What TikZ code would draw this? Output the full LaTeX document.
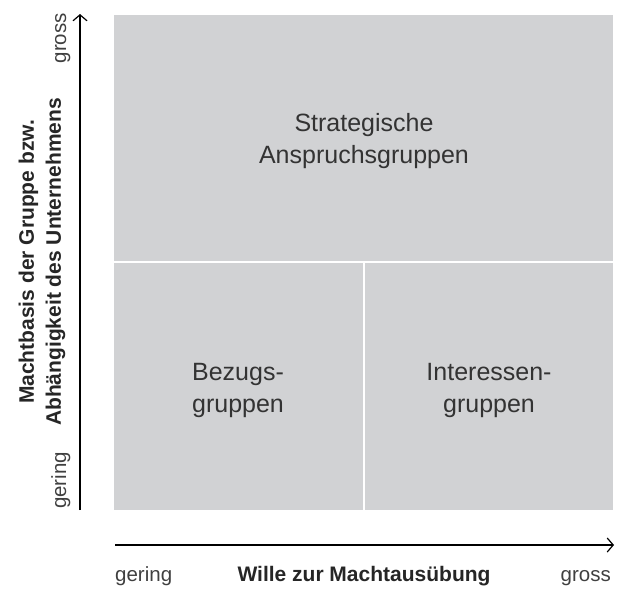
\documentclass[tikz,border=0pt]{standalone}
\usepackage{fontspec}
\setmainfont{Liberation Sans}
\usetikzlibrary{arrows.meta}
\definecolor{feld}{HTML}{D1D2D4}
\tikzset{
  feldtext/.style={align=center,font=\fontsize{25}{32}\selectfont,text=black!80},
  achstext/.style={inner sep=0pt,font=\fontsize{20.5}{22}\selectfont,text=black!75},
  achstitel/.style={align=center,font=\bfseries\fontsize{21}{27}\selectfont,text=black!85},
  achse/.style={-{Straight Barb[length=6pt,width=14pt]},line width=1.2pt}
}
\begin{document}
\begin{tikzpicture}[x=1pt,y=-1pt]
        \useasboundingbox (0,0) rectangle (629,600);
        % Felder der Matrix
        \fill[feld] (114,15) rectangle (613,510);
        \draw[white,line width=1.5pt] (114,262) -- (613,262);
        \draw[white,line width=1.5pt] (364,262) -- (364,510);
        \node[feldtext] (strat) at (364,141) {Strategische\\Anspruchsgruppen};
        \node[feldtext] (bezug) at (238,390) {Bezugs-\\gruppen};
        \node[feldtext] (inter) at (489,390) {Interessen-\\gruppen};
        % Achsen
        \coordinate (yfuss) at (80,510);
        \coordinate (ykopf) at (80,14);
        \coordinate (xfuss) at (115,545);
        \coordinate (xkopf) at (614,545);
        \draw[achse] (yfuss) -- (ykopf);
        \draw[achse] (xfuss) -- (xkopf);
        \node[achstext,rotate=90,anchor=base west] (ygering) at (66,509) {gering};
        \node[achstext,rotate=90,anchor=base east] (ygross) at (66,13) {gross};
        \node[achstitel,rotate=90] (ytitel) at (42,262) {Machtbasis der Gruppe bzw.\\Abh\"angigkeit des Unternehmens};
        \node[achstext,anchor=base west] (xgering) at (115,581) {gering};
        \node[achstext,anchor=base east] (xgross) at (611,581) {gross};
        \node[achstitel,anchor=base] (xtitel) at (364,581) {Wille zur Machtaus\"ubung};
    \end{tikzpicture}
\end{document}
